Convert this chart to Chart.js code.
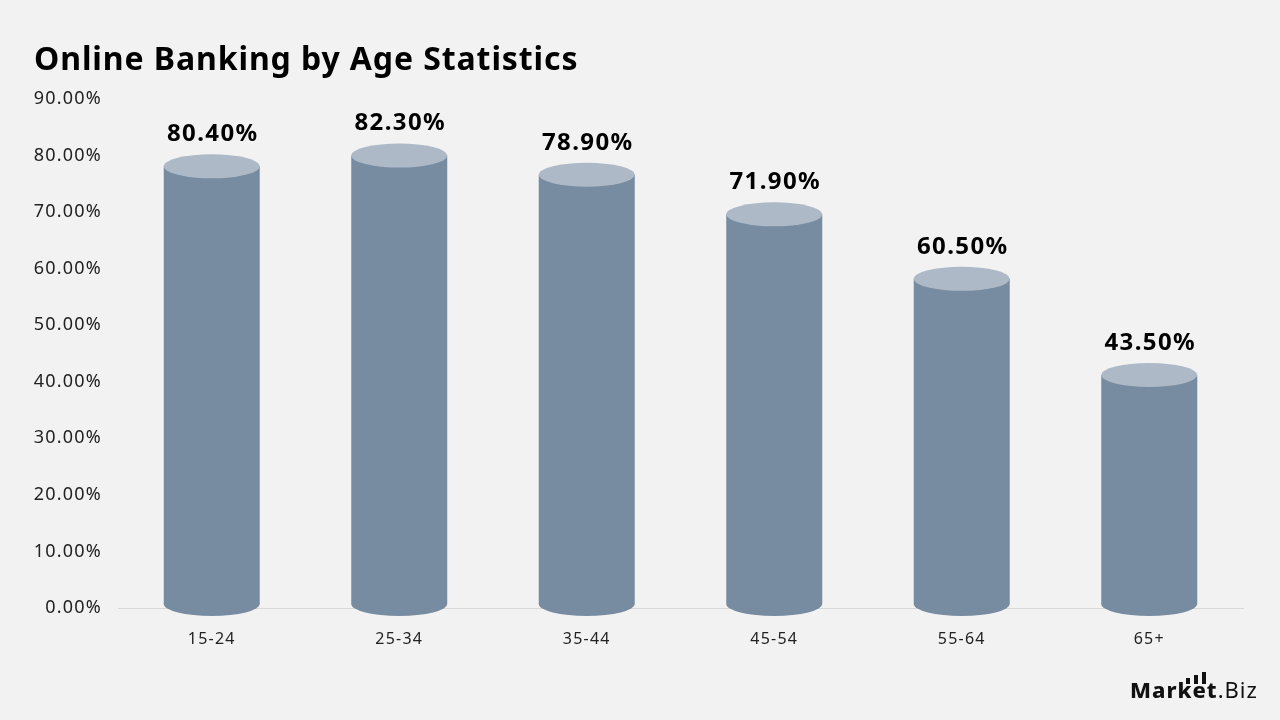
<!DOCTYPE html>
<html>
<head>
<meta charset="utf-8">
<script src="https://cdn.jsdelivr.net/npm/chart.js@4"></script>
<style>
  html, body { margin: 0; padding: 0; background: #f2f2f2; }
  #wrap { position: relative; width: 1280px; height: 720px; }
  #title { position: absolute; left: 34px; top: 36px; margin: 0; font: 700 32px "Noto Sans", sans-serif; color: #000; letter-spacing: 0.9px; }
  #logo { position: absolute; left: 1130px; top: 674px; font: 22px "Noto Sans", sans-serif; color: #111; letter-spacing: 1px; }
  #logo b { font-weight: 800; }
  .ib { position: absolute; width: 4px; background: #111; }
</style>
</head>
<body>
<div id="wrap">
  <canvas id="myChart" width="1280" height="720"></canvas>
  <h1 id="title">Online Banking by Age Statistics</h1>
  <div id="logo"><b>Market</b>.Biz</div>
  <div class="ib" style="left:1186px;top:678px;height:6px"></div>
  <div class="ib" style="left:1194px;top:675px;height:9px"></div>
  <div class="ib" style="left:1202px;top:672px;height:12px"></div>
</div>
<script>
const ageGroups = ["15-24", "25-34", "35-44", "45-54", "55-64", "65+"];
const usageShare = [80.4, 82.3, 78.9, 71.9, 60.5, 43.5];
const yTicksMax = 90;
const yTicksStep = 10;

const bodyColor = "#778ba1";
const capColor = "#adb9c7";
const fontFamily = "'Noto Sans', sans-serif";

// a bit of extra glyph spacing for the axis labels (reference font is wider)
const spacing = {
  id: "spacing",
  beforeUpdate(chart) { chart.ctx.letterSpacing = "1.2px"; },
  beforeDraw(chart) { chart.ctx.letterSpacing = "1.2px"; },
};

// draws each bar as a cylinder + its value label on top
const cylinders = {
  id: "cylinders",
  afterDatasetsDraw(chart) {
    const ctx = chart.ctx;
    const meta = chart.getDatasetMeta(0);
    const ry = 12;
    meta.data.forEach((bar, i) => {
      const rx = bar.width / 2;
      const left = bar.x - rx;
      const topY = bar.y + ry + 1;
      const baseY = bar.base - 4;
      ctx.save();
      ctx.fillStyle = bodyColor;
      ctx.beginPath();
      ctx.moveTo(left, topY);
      ctx.lineTo(left, baseY);
      ctx.ellipse(bar.x, baseY, rx, ry, 0, Math.PI, 0, true);
      ctx.lineTo(left + bar.width, topY);
      ctx.closePath();
      ctx.fill();
      ctx.fillStyle = capColor;
      ctx.beginPath();
      ctx.ellipse(bar.x, topY, rx, ry, 0, 0, Math.PI * 2);
      ctx.fill();
      ctx.fillStyle = "#000";
      ctx.font = "700 24px " + fontFamily;
      ctx.letterSpacing = "1.4px";
      ctx.textAlign = "center";
      ctx.textBaseline = "middle";
      ctx.fillText(usageShare[i].toFixed(2) + "%", bar.x + 1, bar.y - 19);
      ctx.restore();
    });
  },
};

const chart = new Chart(document.getElementById("myChart"), {
  type: "bar",
  data: {
    labels: ageGroups,
    datasets: [
      {
        label: "Online banking",
        data: usageShare,
        backgroundColor: "rgba(0,0,0,0)",
        categoryPercentage: 1,
        barPercentage: 0.512,
      },
    ],
  },
  options: {
    responsive: false,
    animation: false,
    layout: { padding: { top: 99, right: 37, left: 0, bottom: 0 } },
    plugins: {
      legend: { display: false },
      tooltip: { enabled: false },
    },
    scales: {
      x: {
        grid: { display: false },
        border: { color: "#d9d9d9" },
        ticks: { color: "#222", font: { family: fontFamily, size: 16 }, padding: 14 },
        afterFit: (scale) => { scale.height = 112; },
      },
      y: {
        min: 0,
        max: yTicksMax,
        grid: { display: false, drawTicks: false },
        border: { display: false },
        ticks: {
          stepSize: yTicksStep,
          color: "#222",
          padding: 16,
          font: { family: fontFamily, size: 18 },
          callback: (value) => value.toFixed(2) + "%",
        },
        afterFit: (scale) => { scale.width = 118; },
      },
    },
  },
  plugins: [spacing, cylinders],
});
</script>
</body>
</html>
